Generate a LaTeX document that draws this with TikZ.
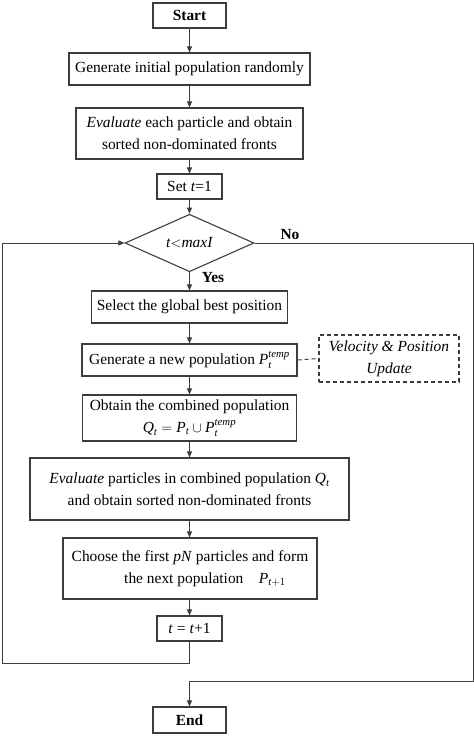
\documentclass[tikz,border=0pt]{standalone}
\usepackage{amsmath}
\usepackage{fontspec}
\setmainfont{Liberation Serif}
\usetikzlibrary{shapes.geometric,arrows.meta}
\definecolor{lc}{RGB}{60,60,60}
\begin{document}
\begin{tikzpicture}[x=1bp,y=-1bp,
  every node/.style={font=\fontsize{15.5}{22.5}\selectfont},
  box/.style={draw=lc, line width=1.1bp, inner sep=0pt, align=center},
  arr/.style={draw=lc, -{Triangle[length=6bp,width=5bp]}, line width=1bp},
  ln/.style={draw=lc, line width=1bp},
  lbl/.style={font=\fontsize{15.5}{18}\selectfont\bfseries, inner sep=0pt}]
\useasboundingbox (0,0) rectangle (474,739);
\node[box, minimum width=73bp, minimum height=25bp] (start) at (189.5,15.5) {\textbf{Start}};
\node[box, minimum width=241bp, minimum height=32bp] (gen) at (189.5,69) {Generate initial population randomly};
\node[box, minimum width=227bp, minimum height=51bp] (ev1) at (189.5,133.5) {\textit{Evaluate} each particle and obtain\\sorted non-dominated fronts};
\node[box, minimum width=65bp, minimum height=25bp] (set) at (189.5,186.5) {Set \textit{t}=1};
\node[draw=lc, diamond, line width=1.1bp, inner sep=0pt, minimum width=129bp, minimum height=46bp] (dec) at (189.5,243) {\textit{t}$<$\textit{maxI}};
\node[box, minimum width=196bp, minimum height=32bp] (sel) at (189.5,307) {Select the global best position};
\node[box, minimum width=215bp, minimum height=32bp] (newp) at (189.5,360) {Generate a new population $\textit{P}_{\textit{t}}^{\textit{temp}}$};
\node[box, dash pattern=on 4bp off 3bp, minimum width=140bp, minimum height=47bp] (vel) at (389,358.5) {\textit{Velocity \& Position}\\\textit{Update}};
\node[box, minimum width=214bp, minimum height=46bp] (obt) at (189.5,418) {Obtain the combined population\\$\textit{Q}_{\textit{t}} = \textit{P}_{\textit{t}}\cup\textit{P}_{\textit{t}}^{\textit{temp}}$};
\node[box, minimum width=319bp, minimum height=62bp] (ev2) at (189.5,489) {\textit{Evaluate} particles in combined population $\textit{Q}_{\textit{t}}$\\and obtain sorted non-dominated fronts};
\node[box, minimum width=254bp, minimum height=61bp] (cho) at (190,568.5) {Choose the first \textit{pN} particles and form\\\hspace*{30bp}the next population\quad$\textit{P}_{\textit{t}+1}$};
\node[box, minimum width=65bp, minimum height=25bp] (inc) at (189.5,628.5) {\textit{t} = \textit{t}+1};
\node[box, minimum width=73bp, minimum height=26bp] (end) at (189.5,720) {\textbf{End}};
\node[lbl] (yes) at (213,278) {Yes};
\node[lbl] (no) at (290,235) {No};
\coordinate (lb) at (2,663);
\coordinate (lt) at (2,243);
\coordinate (rt) at (473,243);
\coordinate (rb) at (473,681);
\draw[arr] (start) -- (gen);
\draw[arr] (gen) -- (ev1);
\draw[arr] (ev1) -- (set);
\draw[arr] (set) -- (dec);
\draw[arr] (dec.south) -- (sel);
\draw[arr] (sel) -- (newp);
\draw[arr] (newp) -- (obt);
\draw[arr] (obt) -- (ev2);
\draw[arr] (ev2) -- (ev2.south |- cho.north);
\draw[arr] (cho.south -| inc.north) -- (inc);
\draw[ln, dash pattern=on 4bp off 3bp] (newp.east) -- (vel.west);
\draw[arr] (inc.south) |- (lb) -- (lt) -- (dec.west);
\draw[arr] (dec.east) -- (rt) -- (rb) -| (end.north);
\end{tikzpicture}
\end{document}
